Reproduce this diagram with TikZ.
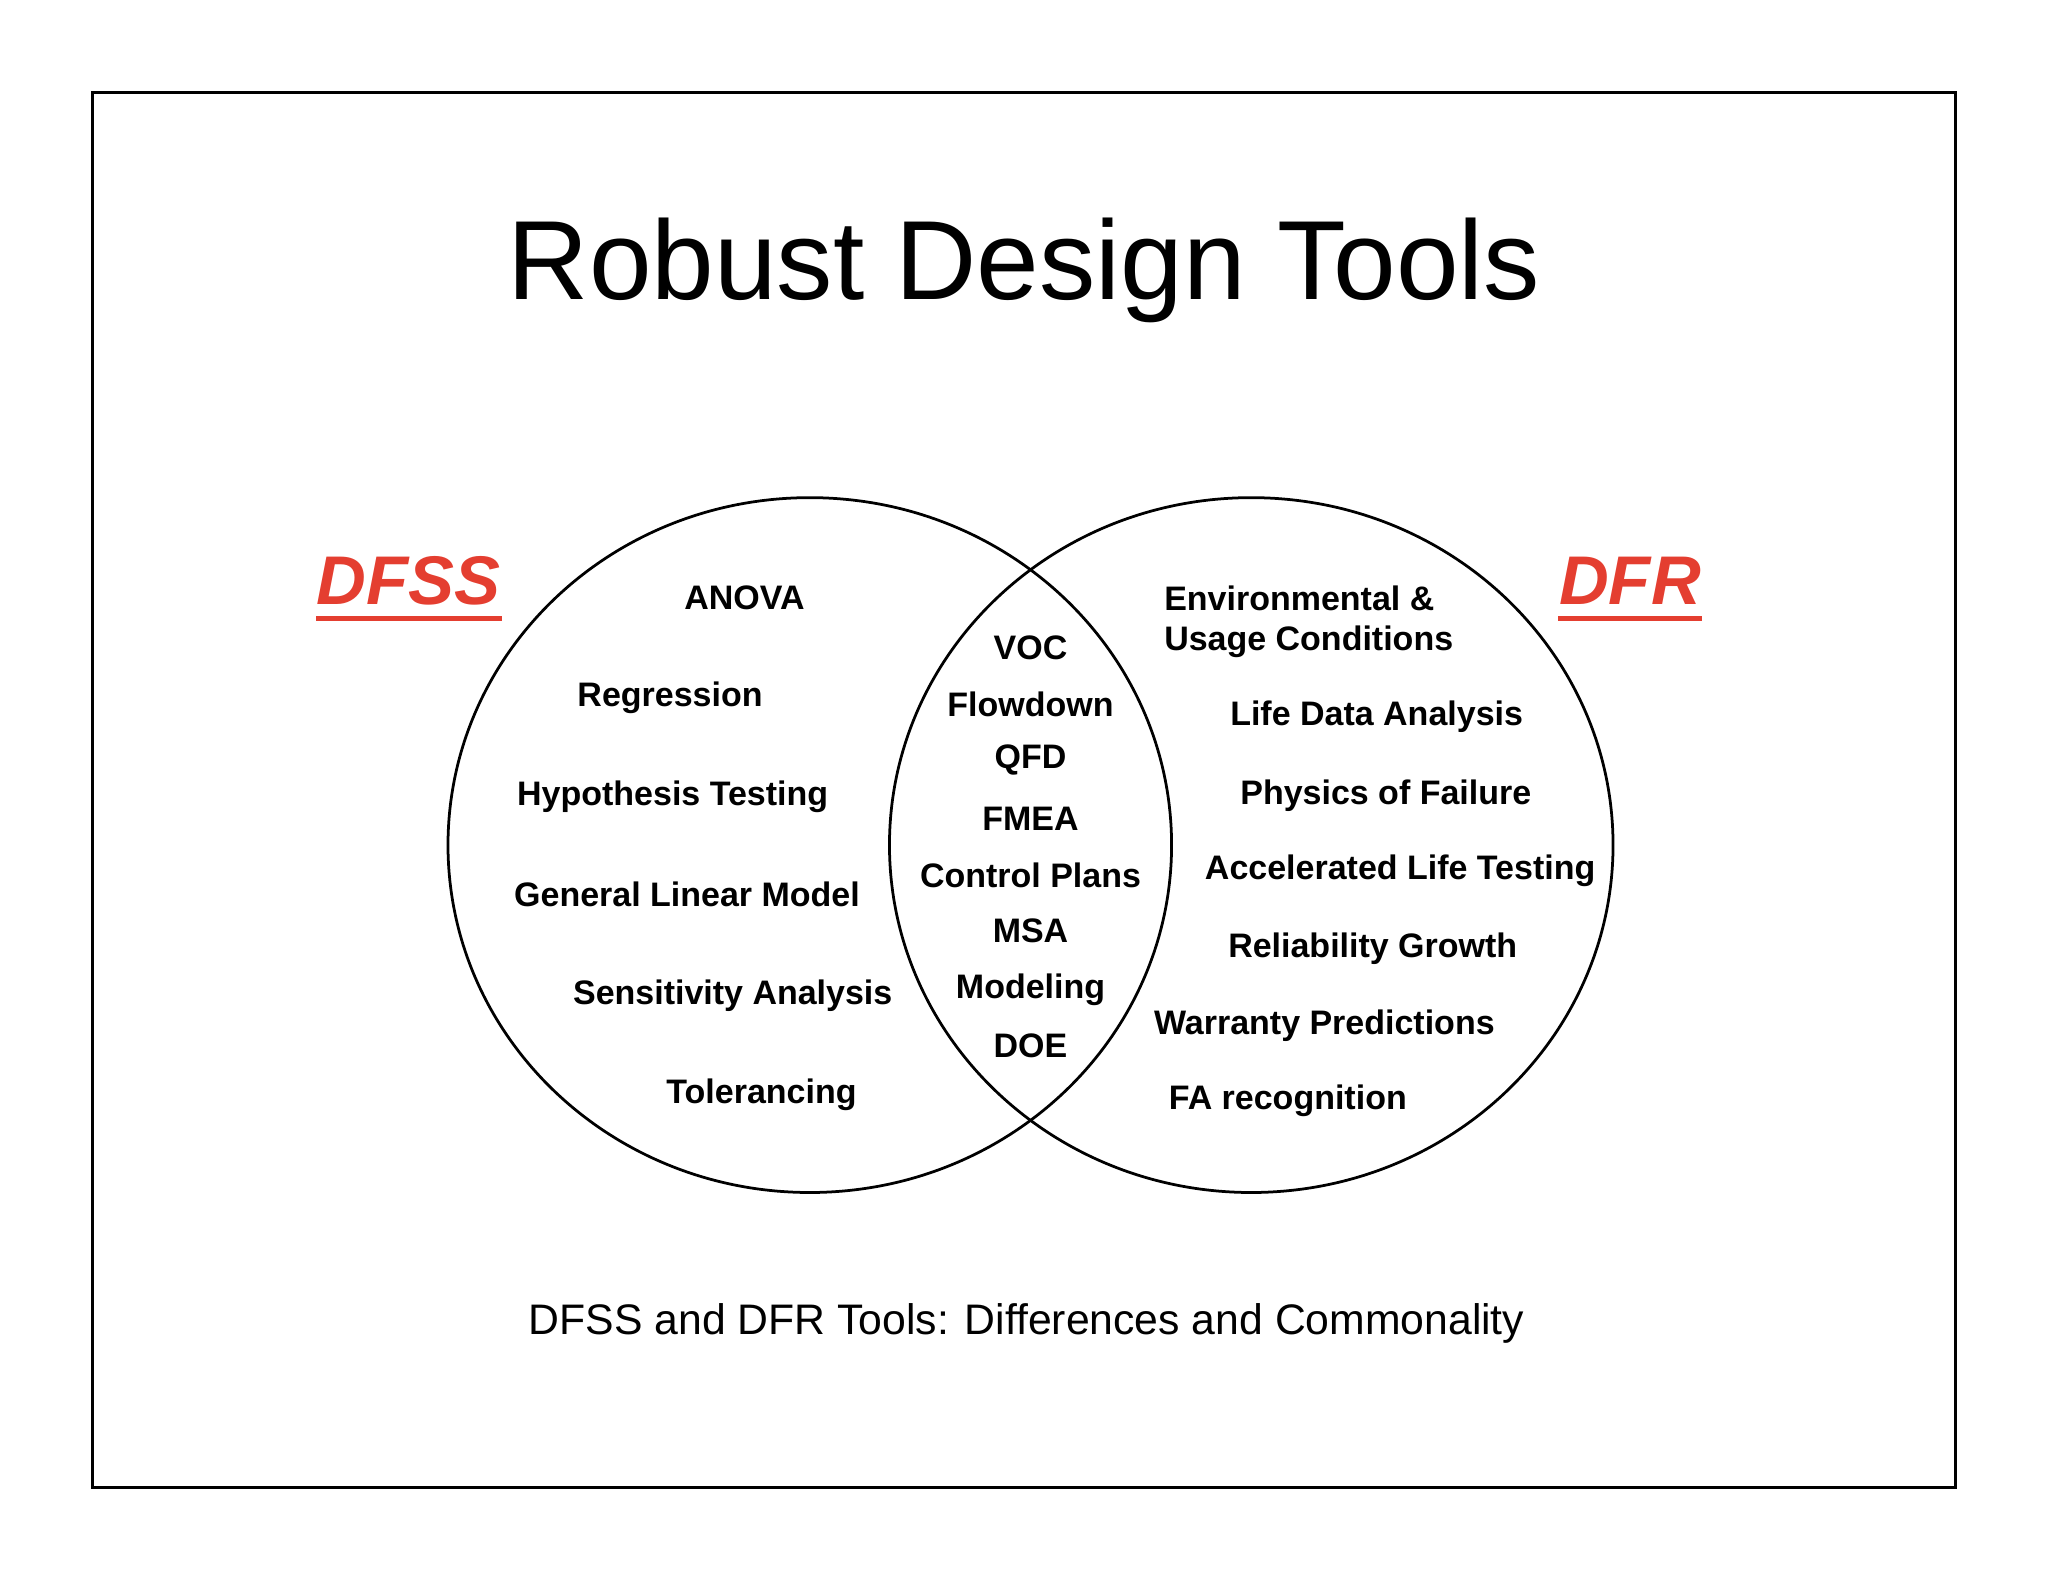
\documentclass[tikz,border=0pt]{standalone}
\usepackage{fontspec}
\setmainfont{Liberation Sans}
\usetikzlibrary{positioning}
\definecolor{tagred}{RGB}{228,62,48}
\begin{document}
\begin{tikzpicture}[x=0.01cm,y=-0.01cm,
  tool/.style={font=\fontsize{7.4pt}{8.7pt}\selectfont\bfseries, align=center},
  tag/.style={font=\fontsize{15pt}{17pt}\selectfont\bfseries\itshape, text=tagred, inner sep=0pt},
  uline/.style={tagred, line width=1.2pt},
  ring/.style={draw, line width=0.6pt}]
\useasboundingbox (0,0) rectangle (1568,1211);
\draw[line width=0.6pt] (71,71) rectangle (1497,1139);
\node (title) at (784,207) {\fontsize{24.5pt}{28pt}\selectfont Robust Design Tools};
% circles
\draw[ring] (620,647) ellipse [x radius=277, y radius=266];
\draw[ring] (958,647) ellipse [x radius=277, y radius=266];
% labels
\node[tag] (dfss) at (313,445) {DFSS};
\node[tag] (dfr) at (1248,445) {DFR};
\draw[uline] ([yshift=-3pt]dfss.base west) -- ([yshift=-3pt]dfss.base east);
\draw[uline] ([yshift=-3pt]dfr.base west) -- ([yshift=-3pt]dfr.base east);
% DFSS side
\node[tool] (anova) at (570,458) {ANOVA};
\node[tool] (regr) at (513,534) {Regression};
\node[tool] (hypo) at (515,610) {Hypothesis Testing};
\node[tool] (glm) at (526,685) {General Linear Model};
\node[tool] (sens) at (561,762) {Sensitivity Analysis};
\node[tool] (tol) at (583,838) {Tolerancing};
% common
\foreach \name/\txt/\y in {voc/VOC/496, flow/Flowdown/539, qfd/QFD/582, fmea/FMEA/627,
  ctrl/Control Plans/670, msa/MSA/713, model/Modeling/758, doe/DOE/801}
  \node[tool] (\name) at (789,\y) {\txt};
% DFR side
\node[tool, align=left] (env) at (1002,476) {Environmental \&\\Usage Conditions};
\node[tool] (life) at (1054,549) {Life Data Analysis};
\node[tool] (phys) at (1061,609) {Physics of Failure};
\node[tool] (alt) at (1072,667) {Accelerated Life Testing};
\node[tool] (rel) at (1051,726) {Reliability Growth};
\node[tool] (warr) at (1014,785) {Warranty Predictions};
\node[tool] (fa) at (986,843) {FA recognition};
\node (caption) at (786,1013) {\fontsize{9.3pt}{11pt}\selectfont DFSS and DFR Tools: Differences and Commonality};
\end{tikzpicture}
\end{document}
